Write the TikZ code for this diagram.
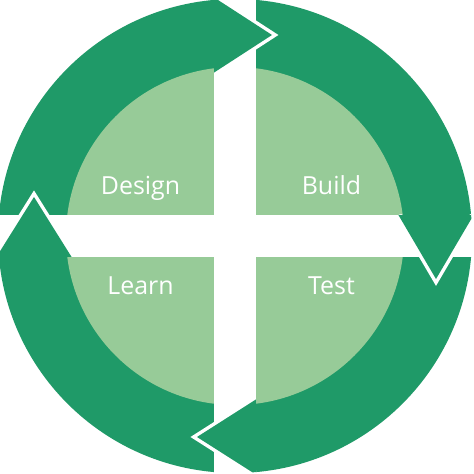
\documentclass[tikz,border=0pt]{standalone}
\usepackage{fontspec}
\setmainfont{Open Sans}
\definecolor{ringgreen}{RGB}{31,154,104}
\definecolor{diskgreen}{RGB}{151,203,152}
\tikzset{
  lbl/.style={text=white, anchor=base, inner sep=0pt, font=\fontsize{25}{30}\selectfont},
  gapline/.style={draw=white, line width=7bp, line join=miter, line cap=butt},
}
\begin{document}
\begin{tikzpicture}[x=1bp,y=1bp]
\useasboundingbox (-235,-238) rectangle (239,236);
\fill[white] (-235,-238) rectangle (239,236);
% ring and disk
\fill[ringgreen] (0,0) circle (237);
\fill[diskgreen] (0,0) circle (169);
% white cross
\fill[white] (-21,-245) rectangle (21,245);
\fill[white] (-245,-21) rectangle (245,21);
% arrowheads (clockwise)
\foreach \a/\t in {0/37,-90/43,-180/38,-270/39} {
  \begin{scope}[rotate=\a]
    \begin{scope}
      \clip (-21,-250) rectangle (250,250);
      \clip (0,0) circle (237);
      \draw[gapline] (-21,238.6) -- (\t,201) -- (-21,163.4);
      \fill[ringgreen] (-21,238.6) -- (\t,201) -- (-21,163.4) -- cycle;
    \end{scope}
  \end{scope}
}
% labels
\node[lbl] (design) at (-94.5,41) {Design};
\node[lbl] (build) at (96.5,41) {Build};
\node[lbl] (learn) at (-94.5,-59) {Learn};
\node[lbl] (test) at (96.5,-59) {Test};
\end{tikzpicture}
\end{document}
